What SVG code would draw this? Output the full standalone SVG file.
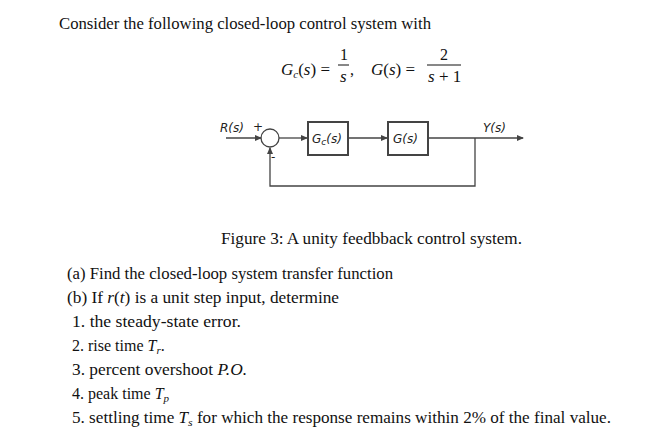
<svg xmlns="http://www.w3.org/2000/svg" width="671" height="448" viewBox="0 0 671 448">
<style>
.t{font-family:"Liberation Serif",serif;font-size:16px;fill:#111}
.m{font-family:"Liberation Serif",serif;font-size:17px;fill:#111;font-style:italic}
.d{font-family:"DejaVu Sans",sans-serif;font-size:12px;fill:#222}
.c{stroke:#444;stroke-width:1.3;fill:none}
.b{fill:#fff;stroke:#444;stroke-width:2}
</style>
<defs><marker id="a" markerWidth="7" markerHeight="6" refX="6" refY="3" orient="auto" markerUnits="userSpaceOnUse"><path d="M0,0L7,3L0,6z" fill="#444"/></marker></defs>
<rect width="671" height="448" fill="#fff"/>
<text class="t" x="59" y="29" textLength="372" lengthAdjust="spacingAndGlyphs">Consider the following closed-loop control system with</text>
<g id="eq">
<text class="m" x="281" y="75">G<tspan font-size="11" dy="3">c</tspan><tspan dy="-3" font-style="normal">(</tspan>s<tspan font-style="normal">) =</tspan></text>
<text class="t" x="340" y="60" font-size="14">1</text>
<line x1="338" y1="65" x2="349" y2="65" stroke="#111"/>
<text class="m" x="340" y="82" font-size="14">s</text>
<text class="t" x="350" y="75">,</text>
<text class="m" x="371" y="75">G<tspan font-style="normal">(</tspan>s<tspan font-style="normal">) =</tspan></text>
<text class="t" x="440" y="60" font-size="14">2</text>
<line x1="427" y1="65" x2="461" y2="65" stroke="#111"/>
<text class="m" x="428" y="82" font-size="14">s <tspan font-style="normal">+ 1</tspan></text>
</g>
<g id="connectors">
<line class="c" x1="226" y1="138" x2="261" y2="138" marker-end="url(#a)"/>
<line class="c" x1="279" y1="138" x2="307" y2="138" marker-end="url(#a)"/>
<line class="c" x1="348" y1="138" x2="387" y2="138" marker-end="url(#a)"/>
<line class="c" x1="428" y1="138" x2="523" y2="138" marker-end="url(#a)"/>
<polyline class="c" points="475,138 475,186 270,186 270,148" marker-end="url(#a)"/>
</g>
<g id="sum"><circle class="c" cx="270" cy="138" r="9"/><text class="d" x="253" y="131">+</text><text class="d" x="271" y="161">-</text></g>
<g id="gc"><rect class="b" x="308" y="122" width="40" height="33"/><text class="d" x="312" y="143" font-style="italic">G<tspan font-size="9" dy="2">c</tspan><tspan dy="-2">(s)</tspan></text></g>
<g id="g"><rect class="b" x="388" y="122" width="40" height="33"/><text class="d" x="393" y="143" font-style="italic">G(s)</text></g>
<text class="d" x="220" y="132" font-style="italic">R(s)</text>
<text class="d" x="483" y="132" font-style="italic">Y(s)</text>
<text class="t" x="221" y="244" textLength="301" lengthAdjust="spacingAndGlyphs">Figure 3: A unity feedbback control system.</text>
<text class="t" x="67" y="279" textLength="326" lengthAdjust="spacingAndGlyphs">(a) Find the closed-loop system transfer function</text>
<text class="t" x="67" y="303" textLength="272" lengthAdjust="spacingAndGlyphs">(b) If <tspan font-style="italic">r</tspan>(<tspan font-style="italic">t</tspan>) is a unit step input, determine</text>
<text class="t" x="72" y="327" textLength="169" lengthAdjust="spacingAndGlyphs">1. the steady-state error.</text>
<text class="t" x="72" y="351">2. rise time <tspan font-style="italic">T<tspan font-size="11" dy="3">r</tspan></tspan><tspan dy="-3">.</tspan></text>
<text class="t" x="72" y="375" textLength="175" lengthAdjust="spacingAndGlyphs">3. percent overshoot <tspan font-style="italic">P.O.</tspan></text>
<text class="t" x="72" y="399">4. peak time <tspan font-style="italic">T<tspan font-size="11" dy="3">p</tspan></tspan></text>
<text class="t" x="72" y="423" textLength="539" lengthAdjust="spacingAndGlyphs">5. settling time <tspan font-style="italic">T<tspan font-size="11" dy="3">s</tspan></tspan><tspan dy="-3"> for which the response remains within 2% of the final value.</tspan></text>
</svg>
